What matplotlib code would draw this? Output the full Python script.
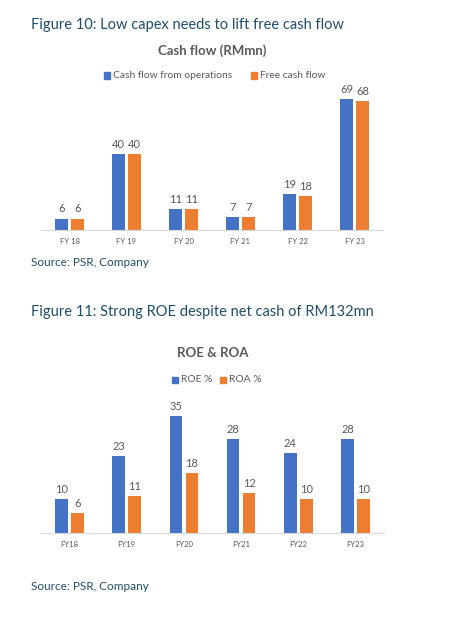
import matplotlib
matplotlib.use("Agg")
import matplotlib.pyplot as plt
import numpy as np

plt.rcParams['font.family'] = ['Lato', 'DejaVu Sans']

# data
cf_years = ["FY 18", "FY 19", "FY 20", "FY 21", "FY 22", "FY 23"]
cfo = [6, 40, 11, 7, 19, 69]
fcf = [6, 40, 11, 7, 18, 68]

roe_years = ["FY18", "FY19", "FY20", "FY21", "FY22", "FY23"]
roe = [10, 23, 35, 28, 24, 28]
roa = [6, 11, 18, 12, 10, 10]

BLUE = "#4472C4"
ORANGE = "#ED7D31"
TEAL = "#1F4E6B"
GREY = "#595959"

W, H = 472, 619
fig = plt.figure(figsize=(W / 100, H / 100), dpi=100)


def px_axes(x0, y_top, x1, y_base):
    return fig.add_axes([x0 / W, 1 - y_base / H, (x1 - x0) / W, (y_base - y_top) / H])


def bar_chart(ax, cats, s1, s2, ymax):
    x = np.arange(len(cats))
    w, off = 0.22, 0.14
    b1 = ax.bar(x - off, s1, w, color=BLUE)
    b2 = ax.bar(x + off, s2, w, color=ORANGE)
    for bars in (b1, b2):
        ax.bar_label(bars, padding=3, fontsize=8, color=GREY)
    ax.set_xlim(-0.5, len(cats) - 0.5)
    ax.set_ylim(0, ymax)
    ax.set_xticks(x, cats)
    ax.tick_params(axis="x", length=0, labelsize=5.5, labelcolor=GREY, pad=6)
    ax.set_yticks([])
    for s in ("top", "left", "right"):
        ax.spines[s].set_visible(False)
    ax.spines["bottom"].set_color("#D9D9D9")
    ax.patch.set_alpha(0)


def legend_item(x, y, color, label):
    # x = left edge of the coloured square
    fig.patches.append(plt.Rectangle((x / W, 1 - (y + 3.5) / H), 6 / W, 6 / H,
                                     color=color, transform=fig.transFigure))
    fig.text((x + 9) / W, 1 - y / H, label, fontsize=7.4, color=GREY, va="center")


# figure 10
fig.text(31 / W, 1 - 25 / H, "Figure 10: Low capex needs to lift free cash flow",
         fontsize=10.5, color=TEAL, va="center")
fig.text(212 / W, 1 - 51 / H, "Cash flow (RMmn)", fontsize=9.5, fontweight="bold",
         color=GREY, ha="center", va="center")
ax1 = px_axes(41, 90, 383, 230)
bar_chart(ax1, cf_years, cfo, fcf, 140 / 1.894)
legend_item(104, 75, BLUE, "Cash flow from operations")
legend_item(251, 75, ORANGE, "Free cash flow")
fig.text(31 / W, 1 - 263 / H, "Source: PSR, Company", fontsize=8.5, color=TEAL, va="center")

# figure 11
fig.text(31 / W, 1 - 312 / H, "Figure 11: Strong ROE despite net cash of RM132mn",
         fontsize=10.5, color=TEAL, va="center")
fig.text(213 / W, 1 - 353 / H, "ROE & ROA", fontsize=9.5, fontweight="bold",
         color=GREY, ha="center", va="center")
ax2 = px_axes(41, 400, 384, 532.7)
bar_chart(ax2, roe_years, roe, roa, 132.7 / 3.33)
legend_item(172, 379, BLUE, "ROE %")
legend_item(220, 379, ORANGE, "ROA %")
fig.text(31 / W, 1 - 586 / H, "Source: PSR, Company", fontsize=8.5, color=TEAL, va="center")

fig.savefig("out.png", dpi=100)
